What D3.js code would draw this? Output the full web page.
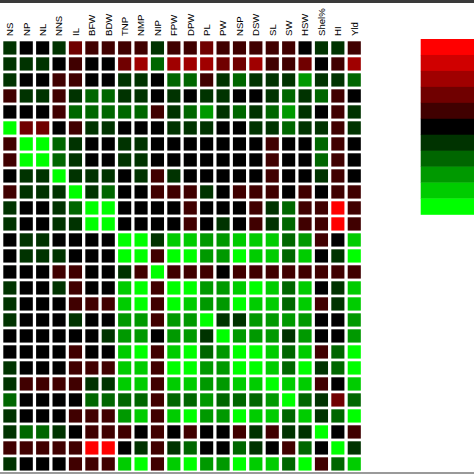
<!DOCTYPE html>
<html><head><meta charset="utf-8">
<script src="https://cdn.jsdelivr.net/npm/d3@7"></script>
<style>html,body{margin:0;padding:0;background:#fff;overflow:hidden}svg{display:block}</style>
</head><body>
<script>
const traits = ["NS","NP","NL","NNS","IL","BFW","BDW","TNP","NMP","NIP","FPW","DPW","PL","PW","NSP","DSW","SL","SW","HSW","Shel%","HI","Yld"];
const rowIds = d3.range(1, 28).map(i => "R" + i);
// colour levels: -5 = bright green ... 0 = black ... 5 = bright red
const levels = [-5,-4,-3,-2,-1,0,1,2,3,4,5];
const levelColors = ["#00ff00","#00cc00","#009900","#006600","#003300","#000000","#400000","#700000","#a00000","#d00000","#ff0000"];
const values = [
[-1,0,0,-1,2,1,1,1,1,-1,1,1,2,1,1,1,1,1,0,-1,-1,1],
[-1,-1,-1,0,1,0,0,2,3,-2,3,3,3,2,2,3,1,1,2,0,1,3],
[-1,0,0,1,1,0,0,-1,-1,0,-2,-2,1,-1,-2,-1,-1,-1,-3,-1,-1,-2],
[1,-1,-1,1,-1,-2,-2,-1,-1,0,-1,0,-1,-1,0,0,-1,-2,-1,-2,1,0],
[0,0,0,1,-2,-2,-2,-2,-2,1,-1,-2,-3,-1,-2,-1,-2,-3,-1,0,1,-1],
[-5,2,2,0,1,-1,-1,0,0,0,-1,-1,-1,0,0,-1,-1,-2,-1,-1,1,-1],
[1,-5,-5,-2,-1,0,0,-1,-1,0,0,0,0,0,0,0,1,0,0,-2,1,0],
[1,-5,-5,-2,-1,0,0,-1,-1,0,0,0,0,0,0,0,1,0,0,-2,1,0],
[0,-1,-1,-5,-1,-1,-1,0,-1,1,-1,0,0,0,0,0,1,0,0,-1,1,0],
[1,-1,-1,-1,-5,-1,-2,0,0,1,1,1,-1,0,1,1,1,0,1,0,1,1],
[-1,0,0,-1,-2,-5,-5,0,0,0,0,1,0,0,0,1,-1,-2,1,1,5,1],
[-1,0,0,-1,-1,-5,-5,0,0,0,0,1,0,-1,0,1,-1,-2,1,1,5,1],
[0,-1,-1,0,0,0,0,-5,-5,-1,-4,-4,-3,-3,-4,-4,-4,-2,-3,1,0,-4],
[0,-1,-1,-1,0,0,0,-5,-5,1,-5,-5,-3,-3,-5,-4,-4,-2,-4,0,-1,-5],
[0,0,0,1,1,0,0,-1,1,-5,1,1,1,0,1,1,1,1,1,1,1,1],
[-1,0,0,-1,1,0,0,-4,-5,1,-5,-5,-3,-3,-4,-5,-4,-2,-4,0,-1,-4],
[-1,0,0,0,1,1,1,-4,-5,1,-5,-4,-3,-3,-5,-4,-4,-2,-4,1,-1,-4],
[-1,0,0,0,-1,0,0,-3,-3,1,-3,-3,-5,-1,-1,-3,-3,-3,-3,0,0,-3],
[0,0,0,0,0,0,-1,-3,-3,0,-3,-3,-1,-5,-3,-3,-3,-1,-3,0,0,-3],
[0,0,0,0,1,0,0,-4,-5,1,-4,-5,-2,-3,-5,-5,-4,-2,-4,1,-2,-5],
[-1,0,0,0,1,1,1,-4,-4,1,-5,-5,-3,-3,-5,-5,-4,-2,-5,-1,-2,-5],
[-1,1,1,1,1,-1,-1,-4,-4,1,-4,-4,-3,-3,-4,-4,-5,-4,-4,1,0,-4],
[-2,0,0,0,0,-2,-2,-2,-2,1,-2,-2,-3,-2,-2,-2,-3,-5,-2,-1,2,-2],
[-1,0,0,0,1,1,1,-3,-4,1,-4,-5,-3,-3,-5,-4,-4,-2,-4,-1,-2,-5],
[-1,-2,-2,-1,0,1,1,1,0,1,0,1,0,0,1,-1,1,-1,-1,-5,0,1],
[1,1,1,1,1,5,5,0,-1,1,-1,-2,0,0,-2,-1,0,1,-2,0,-5,-1],
[-1,0,0,0,1,1,1,-4,-5,1,-4,-5,-3,-3,-5,-4,-4,-2,-5,1,-2,-4]
];

const W = 474, H = 474;
const svg = d3.select("body").append("svg").attr("width", W).attr("height", H);
svg.append("rect").attr("width", W).attr("height", H).attr("fill", "#fff");

const x = d3.scaleBand().domain(traits).range([1.66, 362.46]).paddingInner(0.2).paddingOuter(0.1);
const y = d3.scaleBand().domain(rowIds).range([39.94, 471.94]).paddingInner(0.17).paddingOuter(0.085);
const color = d3.scaleOrdinal().domain(levels).range(levelColors);

const cells = [];
values.forEach((row, i) => row.forEach((v, j) => cells.push({r: rowIds[i], c: traits[j], v})));

svg.append("g").selectAll("rect").data(cells).join("rect")
  .attr("x", d => x(d.c)).attr("y", d => y(d.r))
  .attr("width", x.bandwidth()).attr("height", y.bandwidth())
  .attr("fill", d => color(d.v));

// column labels
svg.append("g").selectAll("text").data(traits).join("text")
  .attr("transform", d => `translate(${x(d) + x.bandwidth()/2},36) rotate(-90)`)
  .attr("text-anchor", "start")
  .attr("dy", "0.35em")
  .attr("font-family", "'Liberation Sans', Arial, sans-serif")
  .attr("font-size", "9.6px")
  .attr("fill", "#000")
  .text(d => d);

// colour key
const ky = d3.scaleBand().domain(levels.slice().reverse()).range([39, 214.5]);
svg.append("g").selectAll("rect").data(levels.slice().reverse()).join("rect")
  .attr("x", 420.7).attr("y", d => ky(d)).attr("width", 60).attr("height", ky.bandwidth() + 0.3)
  .attr("fill", d => color(d));

// frame bands of the original image
svg.append("rect").attr("x", 0).attr("y", 0).attr("width", W).attr("height", 3).attr("fill", "#3a3a3a");
svg.append("rect").attr("x", 0).attr("y", 472).attr("width", W).attr("height", 2).attr("fill", "#9a9a9a");
</script>
</body></html>
